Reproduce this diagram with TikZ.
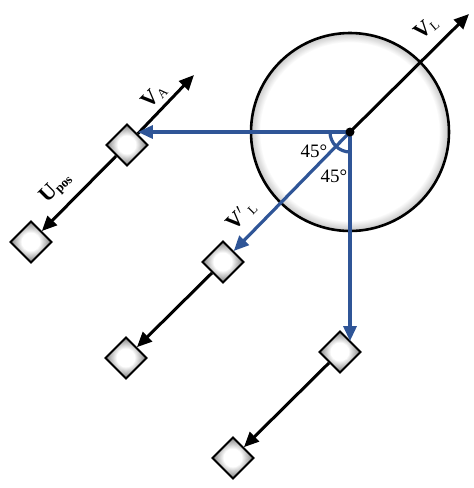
\documentclass[tikz,border=0pt]{standalone}
\usepackage{fontspec}
\setmainfont{Liberation Serif}
\usetikzlibrary{arrows.meta}
\definecolor{myblue}{HTML}{2F5597}
\tikzset{
  box/.style={draw=black, line width=1.8pt, rectangle, minimum size=29pt, inner sep=0pt, rotate=45,
    path picture={\foreach \i in {0,...,14}{\pgfmathsetmacro\cc{55-55*\i/14}
      \fill[black!\cc] (path picture bounding box.center) circle[radius={(22-0.9*\i)*1pt}];}}},
  ballfill/.style={path picture={\foreach \i in {0,...,16}{\pgfmathsetmacro\cc{24-24*\i/16}
      \fill[black!\cc] (path picture bounding box.center) circle[radius={(100-0.65*\i)*1pt}];}}},
  blk/.style={draw=black, line width=3pt, -{Triangle[length=15pt,width=13pt]}},
  blu/.style={draw=myblue, line width=3.2pt, -{Triangle[length=15pt,width=13pt]}},
  lbl/.style={font=\fontsize{22}{22}\selectfont, inner sep=0pt},
  ang/.style={font=\fontsize{19}{19}\selectfont, inner sep=0pt}
}
\newcommand{\subsc}[1]{\raisebox{-2pt}{\fontsize{13}{13}\selectfont #1}}
\begin{document}
\begin{tikzpicture}[x=1pt,y=-1pt]
\useasboundingbox (0,0) rectangle (474,488);
% ball
\node[circle, minimum size=198pt, inner sep=0pt, draw=black, line width=2.6pt, ballfill] (ball) at (350,132) {};
\coordinate (c) at (350,132);
\coordinate (vl) at (469,14);
\draw[blk] (c) -- (vl);
% diamonds
\node[box] (A) at (127,145) {};
\node[box] (B) at (31,242) {};
\node[box] (C) at (223,262) {};
\node[box] (D) at (126,358) {};
\node[box] (E) at (340,352) {};
\node[box] (F) at (233,458) {};
\coordinate (va) at (194,75);
% black arrows
\draw[blk] (A) -- (va);
\draw[blk] (A) -- (B);
\draw[blk] (C) -- (D);
\draw[blk] (E) -- (F);
% blue arrows
\draw[blu] (c) -- (A.east |- c);
\draw[blu] (c) -- (C);
\draw[blu] (c) -- (c |- E.east);
% angle arc
\draw[myblue, line width=3.2pt] (330,132) arc[start angle=180, end angle=270, radius=20pt];
\fill[black] (c) circle (4.5pt);
% labels
\node[lbl, rotate=40] (lvl) at (426,28) {\textbf{V}\subsc{L}};
\node[lbl, rotate=45] (lva) at (154,96) {\textbf{V}\subsc{A}};
\node[lbl, rotate=45] (lup) at (56,188) {\textbf{U}\subsc{\textbf{pos}}};
\node[lbl, rotate=45] (lvp) at (241,215) {\textbf{V}$'$\,\subsc{L}};
\node[ang] (a1) at (314,151) {45°};
\node[ang] (a2) at (334,176) {45°};
\end{tikzpicture}
\end{document}
